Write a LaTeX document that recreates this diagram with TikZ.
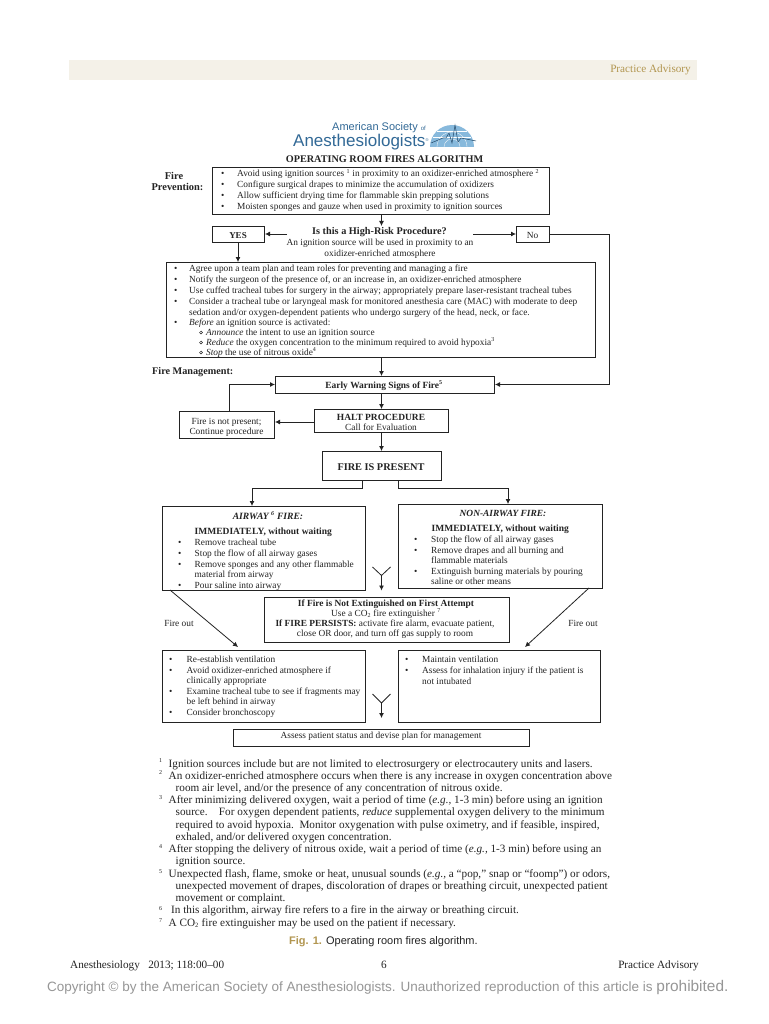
\documentclass[tikz,border=0pt]{standalone}
\usepackage{fontspec}
\setmainfont{Liberation Serif}
\newfontfamily\sansf{Liberation Sans}
\usetikzlibrary{arrows.meta,calc}
\definecolor{bandc}{RGB}{244,241,232}
\definecolor{goldc}{RGB}{178,150,80}
\definecolor{ascblue}{RGB}{50,105,150}
\definecolor{ascdome}{RGB}{135,185,220}
\definecolor{inkc}{RGB}{35,35,35}
\definecolor{grayc}{RGB}{150,150,150}
\tikzset{
  x=1pt,y=-1pt,
  flowbox/.style={draw=inkc,line width=1pt,inner sep=0pt},
  flow/.style={draw=inkc,line width=0.8pt,-{Latex[length=5pt,width=5pt]}},
  plain/.style={draw=inkc,line width=0.8pt},
  txt/.style={inner sep=0pt,anchor=base west,text=inkc,font=\fontsize{9.35}{10}\selectfont},
  ctr/.style={inner sep=0pt,anchor=base,text=inkc,font=\fontsize{9.35}{10}\selectfont},
  notetxt/.style={inner sep=0pt,anchor=base west,text=inkc,font=\fontsize{11.2}{12}\selectfont},
}
\newcommand{\sx}[1]{\textsuperscript{\fontsize{6}{6}\selectfont #1}}
\newcommand{\boxat}[5]{\node[flowbox,minimum width=#4-#2,minimum height=#5-#3,anchor=north west] (#1) at (#2,#3) {};}
\begin{document}
\begin{tikzpicture}
\useasboundingbox (0,0) rectangle (768,1024);
\fill[white] (0,0) rectangle (768,1024);
% header
\fill[bandc] (69,60) rectangle (697,80);
\node[inner sep=0pt,anchor=base east,text=goldc,font=\fontsize{11.2}{12}\selectfont] (hdr) at (691,73) {Practice Advisory};
% logo
\fill[ascdome] (430,147) arc[start angle=180,end angle=360,radius=22] -- cycle;
\draw[white,line width=0.3pt] (437,147) arc[start angle=180,end angle=360,radius=15] (444,147) arc[start angle=180,end angle=360,radius=8];
\draw[white,line width=0.3pt] (433,137) -- (471,137) (437,131) -- (467,131);
\node[inner sep=0pt,anchor=base west,text=ascblue,font=\sansf\fontsize{11}{12}\selectfont] (lg1) at (332,131) {American Society {\fontsize{6}{6}\selectfont of}};
\node[inner sep=0pt,anchor=base west,text=ascblue,font=\sansf\fontsize{17}{18}\selectfont] (lg2) at (293,147) {Anesthesiologists\raisebox{5pt}{\fontsize{4}{4}\selectfont ®}};
\draw[ascblue!70!black,line width=0.5pt] (431,143) -- (443,138) -- (446,138) -- (449,133) -- (452,143) -- (455,125) -- (458,142) -- (461,138) -- (476,141);
% title
\node[ctr,font=\bfseries\fontsize{10.2}{12}\selectfont] (title) at (384.5,162.5) {OPERATING ROOM FIRES ALGORITHM};
\node[ctr,font=\bfseries\fontsize{10.4}{12}\selectfont] (fp1) at (174,180) {Fire};
\node[ctr,font=\bfseries\fontsize{10.4}{12}\selectfont] (fp2) at (177.5,191) {Prevention:};
% boxes
\boxat{prev}{212}{167}{549}{214}
\boxat{yes}{212}{226}{264}{242}
\boxat{no}{516}{226}{549}{242}
\boxat{big}{166}{262}{595}{357}
\boxat{early}{275}{376}{494}{393}
\boxat{halt}{314}{409}{448}{432}
\boxat{notp}{179}{411}{274}{438}
\boxat{pres}{322}{451}{441}{480}
\boxat{air}{162}{506}{365}{590}
\boxat{nonair}{398}{504}{602}{588}
\boxat{ifnot}{264}{597}{509}{642}
\boxat{reest}{162}{650}{365}{722}
\boxat{maint}{398}{650}{600}{722}
\boxat{assess}{233}{729}{529}{746}
% prevention text
\foreach \n/\y in {1/177,2/188,3/199,4/210}{\node[txt] (pb\n) at (221,\y) {•};}
\node[txt] (p1) at (237,177) {Avoid using ignition sources \sx{1} in proximity to an oxidizer-enriched atmosphere \sx{2}};
\node[txt] (p2) at (237,188) {Configure surgical drapes to minimize the accumulation of oxidizers};
\node[txt] (p3) at (237,199) {Allow sufficient drying time for flammable skin prepping solutions};
\node[txt] (p4) at (237,210) {Moisten sponges and gauze when used in proximity to ignition sources};
% question
\node[ctr,font=\bfseries\fontsize{10.25}{12}\selectfont] (q) at (379.5,235) {Is this a High-Risk Procedure?};
\node[ctr] (q2) at (380,245.5) {An ignition source will be used in proximity to an};
\node[ctr] (q3) at (380,256) {oxidizer-enriched atmosphere};
\node[ctr,font=\bfseries\fontsize{9}{10}\selectfont] (yest) at (238,238) {YES};
\node[ctr] (not) at (532.5,238) {No};
% big text
\foreach \n/\y in {1/271,2/282,3/293,4/304,5/325}{\node[txt] (bb\n) at (174,\y) {•};}
\node[txt] (b1) at (189,271) {Agree upon a team plan and team roles for preventing and managing a fire};
\node[txt] (b2) at (189,282) {Notify the surgeon of the presence of, or an increase in, an oxidizer-enriched atmosphere};
\node[txt] (b3) at (189,293) {Use cuffed tracheal tubes for surgery in the airway; appropriately prepare laser-resistant tracheal tubes};
\node[txt] (b4) at (189,304) {Consider a tracheal tube or laryngeal mask for monitored anesthesia care (MAC) with moderate to deep};
\node[txt] (b5) at (189,315) {sedation and/or oxygen-dependent patients who undergo surgery of the head, neck, or face.};
\node[txt] (b6) at (189,325) {\textit{Before} an ignition source is activated:};
\foreach \n/\y in {1/335,2/345,3/355}{\draw[inkc,line width=0.5pt] (201,\y-2.5) circle[radius=1.4];}
\node[txt] (b7) at (206,335) {\textit{Announce} the intent to use an ignition source};
\node[txt] (b8) at (206,345) {\textit{Reduce} the oxygen concentration to the minimum required to avoid hypoxia\sx{3}};
\node[txt] (b9) at (206,355) {\textit{Stop} the use of nitrous oxide\sx{4}};
% management
\node[txt,font=\bfseries\fontsize{10.2}{12}\selectfont] (fm) at (152,374) {Fire Management:};
\node[ctr,font=\bfseries\fontsize{9.45}{10}\selectfont] (ews) at (384,388) {Early Warning Signs of Fire\sx{5}};
\node[ctr,font=\bfseries\fontsize{9.45}{10}\selectfont] (ht) at (381,420) {HALT PROCEDURE};
\node[ctr] (ht2) at (381,430) {Call for Evaluation};
\node[ctr] (np1) at (226.5,424) {Fire is not present;};
\node[ctr] (np2) at (226.5,434) {Continue procedure};
\node[ctr,font=\bfseries\fontsize{10.3}{12}\selectfont] (fip) at (381,470) {FIRE IS PRESENT};
% airway
\node[ctr,font=\bfseries\itshape\fontsize{9.6}{10}\selectfont] (at) at (268,519) {AIRWAY \sx{6} FIRE:};
\node[txt,font=\bfseries\fontsize{9.5}{10}\selectfont] (at2) at (194.5,534) {IMMEDIATELY, without waiting};
\foreach \n/\y in {1/545,2/556,3/567,4/588}{\node[txt] (ab\n) at (178,\y) {•};}
\node[txt] (a1) at (194.5,545) {Remove tracheal tube};
\node[txt] (a2) at (194.5,556) {Stop the flow of all airway gases};
\node[txt] (a3) at (194.5,567) {Remove sponges and any other flammable};
\node[txt] (a4) at (194.5,577) {material from airway};
\node[txt] (a5) at (194.5,588) {Pour saline into airway};
% non-airway
\node[ctr,font=\bfseries\itshape\fontsize{9.4}{10}\selectfont] (nt) at (503,516) {NON-AIRWAY FIRE:};
\node[txt,font=\bfseries\fontsize{9.5}{10}\selectfont] (nt2) at (431.5,531) {IMMEDIATELY, without waiting};
\foreach \n/\y in {1/542,2/553,3/574}{\node[txt] (nb\n) at (414,\y) {•};}
\node[txt] (n1) at (431,542) {Stop the flow of all airway gases};
\node[txt] (n2) at (431,553) {Remove drapes and all burning and};
\node[txt] (n3) at (431,563) {flammable materials};
\node[txt] (n4) at (431,574) {Extinguish burning materials by pouring};
\node[txt] (n5) at (431,584) {saline or other means};
% if fire
\node[ctr,font=\bfseries\fontsize{9.4}{10}\selectfont] (f1) at (386,606) {If Fire is Not Extinguished on First Attempt};
\node[ctr] (f2) at (386,616) {Use a CO\textsubscript{\fontsize{6}{6}\selectfont 2} fire extinguisher \sx{7}};
\node[ctr] (f3) at (385,626) {\textbf{If FIRE PERSISTS:} activate fire alarm, evacuate patient,};
\node[ctr] (f4) at (385,636) {close OR door, and turn off gas supply to room};
\node[ctr] (fo1) at (179,626) {Fire out};
\node[ctr] (fo2) at (583,626) {Fire out};
% reest
\foreach \n/\y in {1/662,2/673,3/694,4/715}{\node[txt] (rb\n) at (169,\y) {•};}
\node[txt] (r1) at (186.5,662) {Re-establish ventilation};
\node[txt] (r2) at (186.5,673) {Avoid oxidizer-enriched atmosphere if};
\node[txt] (r3) at (186.5,683) {clinically appropriate};
\node[txt] (r4) at (186.5,694) {Examine tracheal tube to see if fragments may};
\node[txt] (r5) at (186.5,704) {be left behind in airway};
\node[txt] (r6) at (186.5,715) {Consider bronchoscopy};
\foreach \n/\y in {1/662,2/673}{\node[txt] (mb\n) at (405,\y) {•};}
\node[txt] (m1) at (422,662) {Maintain ventilation};
\node[txt] (m2) at (422,673) {Assess for inhalation injury if the patient is};
\node[txt] (m3) at (422,684) {not intubated};
\node[ctr] (as) at (381,738) {Assess patient status and devise plan for management};
% connectors
\coordinate (cx) at (381.5,0);
\coordinate (yx) at (238,0);
\coordinate (qL) at (287,234);
\coordinate (qR) at (473,234);
\coordinate (noC) at (609,234);
\coordinate (ewsC) at (609,384.5);
\coordinate (npC) at (229,384.5);
\coordinate (hlC) at (0,422);
\coordinate (spL1) at (362,488);
\coordinate (spL2) at (252,488);
\coordinate (spR1) at (398,488);
\coordinate (spR2) at (508,488);
\coordinate (d1) at (170,590);
\coordinate (d2) at (238,647);
\coordinate (d3) at (589,588);
\coordinate (d4) at (525,647);
\draw[flow] (prev.south -| cx) -- (cx |- no.north);
\draw[flow] (qL) -- (yes.east |- qL);
\draw[flow] (qR) -- (no.west |- qR);
\draw[flow] (yes.south -| yx) -- (big.north -| yx);
\draw[flow] (no.east |- noC) -- (noC) -- (ewsC) -- (early.east |- ewsC);
\draw[flow] (big.south -| cx) -- (early.north -| cx);
\draw[flow] (early.south -| cx) -- (halt.north -| cx);
\draw[flow] (halt.west |- hlC) -- (notp.east |- hlC);
\draw[flow] (notp.north -| npC) -- (npC) -- (early.west |- npC);
\draw[flow] (halt.south -| cx) -- (pres.north -| cx);
\draw[flow] (pres.south -| spL1) -- (spL1) -- (spL2) -- (air.north -| spL2);
\draw[flow] (pres.south -| spR1) -- (spR1) -- (spR2) -- (nonair.north -| spR2);
% merge 1
\coordinate (y1a) at (372.5,567);
\coordinate (y1b) at (390.5,567);
\coordinate (y1c) at (381.5,575.5);
\coordinate (y1d) at (381.5,590.5);
\draw[plain] (y1a) -- (y1c) -- (y1b);
\draw[flow] (y1c) -- (y1d);
\draw[flow] (d1) -- (d2);
\draw[flow] (d3) -- (d4);
% merge 2
\coordinate (y2a) at (372.5,694);
\coordinate (y2b) at (390.5,694);
\coordinate (y2c) at (381.5,703);
\coordinate (y2d) at (381.5,718);
\draw[plain] (y2a) -- (y2c) -- (y2b);
\draw[flow] (y2c) -- (y2d);
% footnotes
\foreach \t/\y in {1/762,2/774,3/799,4/848,5/873,6/910,7/922}{\node[txt,font=\fontsize{6}{6}\selectfont] (s\t) at (159,\y) {\t};}
\node[notetxt] (n01) at (168.5,767) {Ignition sources include but are not limited to electrosurgery or electrocautery units and lasers.};
\node[notetxt] (n02) at (168.5,779) {An oxidizer-enriched atmosphere occurs when there is any increase in oxygen concentration above};
\node[notetxt] (n03) at (175.5,791) {room air level, and/or the presence of any concentration of nitrous oxide.};
\node[notetxt] (n04) at (168.5,803) {After minimizing delivered oxygen, wait a period of time (\textit{e.g.,} 1-3 min) before using an ignition};
\node[notetxt] (n05) at (175.5,815.5) {source.\quad For oxygen dependent patients, \textit{reduce} supplemental oxygen delivery to the minimum};
\node[notetxt] (n06) at (175.5,828) {required to avoid hypoxia.\ \ Monitor oxygenation with pulse oximetry, and if feasible, inspired,};
\node[notetxt] (n07) at (175.5,840) {exhaled, and/or delivered oxygen concentration.};
\node[notetxt] (n08) at (168.5,852) {After stopping the delivery of nitrous oxide, wait a period of time (\textit{e.g.,} 1-3 min) before using an};
\node[notetxt] (n09) at (175.5,864) {ignition source.};
\node[notetxt] (n10) at (168.5,877) {Unexpected flash, flame, smoke or heat, unusual sounds (\textit{e.g.,} a “pop,” snap or “foomp”) or odors,};
\node[notetxt] (n11) at (175.5,889) {unexpected movement of drapes, discoloration of drapes or breathing circuit, unexpected patient};
\node[notetxt] (n12) at (175.5,901) {movement or complaint.};
\node[notetxt] (n13) at (171,913.5) {In this algorithm, airway fire refers to a fire in the airway or breathing circuit.};
\node[notetxt] (n14) at (168.5,926) {A CO\textsubscript{\fontsize{6.5}{6.5}\selectfont 2} fire extinguisher may be used on the patient if necessary.};
\node[inner sep=0pt,anchor=base west,text=inkc,font=\sansf\fontsize{11}{12}\selectfont] (fig) at (289,944) {\textcolor{goldc}{\textbf{Fig. 1.}} Operating room fires algorithm.};
% footer
\node[inner sep=0pt,anchor=base west,text=inkc,font=\fontsize{11.2}{12}\selectfont] (ft1) at (70,968) {Anesthesiology\ \ \ 2013; 118:00--00};
\node[inner sep=0pt,anchor=base,text=inkc,font=\fontsize{11.2}{12}\selectfont] (ft2) at (384,968) {6};
\node[inner sep=0pt,anchor=base east,text=inkc,font=\fontsize{11.2}{12}\selectfont] (ft3) at (699,968) {Practice Advisory};
\node[inner sep=0pt,anchor=base west,text=grayc,font=\sansf\fontsize{13.5}{14}\selectfont] (cp) at (47,991) {Copyright © by the American Society of Anesthesiologists. Unauthorized reproduction of this article is {\fontsize{15.4}{14}\selectfont prohibited.}};
\end{tikzpicture}
\end{document}
